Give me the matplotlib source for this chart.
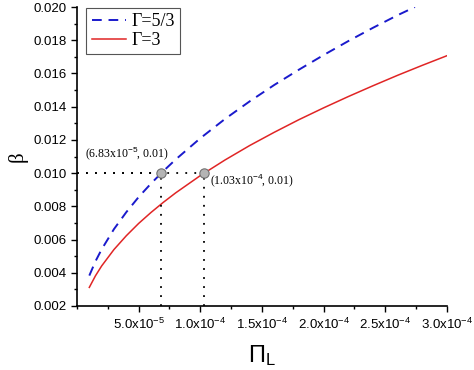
import matplotlib
matplotlib.use("Agg")
import matplotlib.pyplot as plt
from matplotlib.ticker import MultipleLocator

# Data
pi_blue = [1.0e-5, 1.5e-5, 2.0e-5, 3.0e-5, 4.0e-5, 5.0e-5, 6.0e-5, 7.0e-5, 8.0e-5,
           1.0e-4, 1.2e-4, 1.4e-4, 1.6e-4, 1.8e-4, 2.0e-4, 2.2e-4, 2.4e-4, 2.6e-4, 2.74e-4]
beta_blue = [0.00383, 0.00469, 0.00541, 0.00663, 0.00765, 0.00856, 0.00937, 0.01012, 0.01082,
             0.0121, 0.01326, 0.01432, 0.01531, 0.01623, 0.01711, 0.01795, 0.01875, 0.01951, 0.0200]

pi_red = [1.0e-5, 1.5e-5, 2.0e-5, 3.0e-5, 4.0e-5, 5.0e-5, 6.0e-5, 7.0e-5, 8.0e-5,
          1.0e-4, 1.2e-4, 1.4e-4, 1.6e-4, 1.8e-4, 2.0e-4, 2.2e-4, 2.4e-4, 2.6e-4, 2.8e-4, 3.0e-4]
beta_red = [0.00312, 0.00382, 0.00441, 0.0054, 0.00623, 0.00697, 0.00763, 0.00824, 0.00881,
            0.00985, 0.01079, 0.01166, 0.01246, 0.01322, 0.01393, 0.01461, 0.01526, 0.01589, 0.01649, 0.01707]

marked_x = [6.83e-5, 1.03e-4]
marked_y = [0.01, 0.01]
marked_labels = [r"(6.83x10$^{-5}$, 0.01)", r"(1.03x10$^{-4}$, 0.01)"]

xticks = [5e-5, 1e-4, 1.5e-4, 2e-4, 2.5e-4, 3e-4]
xticklabels = [r"5.0x10$^{-5}$", r"1.0x10$^{-4}$", r"1.5x10$^{-4}$",
               r"2.0x10$^{-4}$", r"2.5x10$^{-4}$", r"3.0x10$^{-4}$"]
yticks = [0.002, 0.004, 0.006, 0.008, 0.010, 0.012, 0.014, 0.016, 0.018, 0.020]

plt.rcParams['font.family'] = ['Liberation Sans', 'DejaVu Sans']
plt.rcParams['mathtext.fontset'] = 'custom'
plt.rcParams['mathtext.rm'] = 'Liberation Sans'
plt.rcParams['mathtext.it'] = 'Liberation Sans:italic'

fig = plt.figure(figsize=(4.74, 3.70), dpi=100)
ax = fig.add_axes([0.1624, 0.173, 0.7806, 0.808])

ax.plot(pi_blue, beta_blue, color='#1a1acc', lw=1.4, ls=(0, (5, 3.5)), label='Γ=5/3')
ax.plot(pi_red, beta_red, color='#e02525', lw=1.1, label='Γ=3')

for mx, my in zip(marked_x, marked_y):
    ax.plot([0, mx], [my, my], color='black', lw=1.3, ls=(0, (1, 4)))
    ax.plot([mx, mx], [0.002, my], color='black', lw=1.3, ls=(0, (1, 4)))
ax.scatter(marked_x, marked_y, s=45, facecolor='#b4b4b4', edgecolor='#707070', lw=0.8, zorder=5)

ax.annotate(marked_labels[0], (marked_x[0], marked_y[0]), xytext=(-55, 14),
            textcoords='offset points', fontsize=8.5, family='Liberation Serif', ha='left', va='center')
ax.annotate(marked_labels[1], (marked_x[1], marked_y[1]), xytext=(4, -5),
            textcoords='offset points', fontsize=8.5, family='Liberation Serif', ha='left', va='center')

ax.set_xlim(0, 3e-4)
ax.set_ylim(0.002, 0.020)
ax.set_xticks(xticks)
ax.set_xticklabels(xticklabels)
ax.xaxis.set_minor_locator(MultipleLocator(2.5e-5))
ax.set_yticks(yticks)
ax.set_yticklabels([f"{v:.3f}" for v in yticks])
ax.yaxis.set_minor_locator(MultipleLocator(0.001))
ax.tick_params(axis='both', which='major', direction='out', length=4, labelsize=9.5, width=1)
ax.tick_params(axis='both', which='minor', direction='out', length=2.5, width=1)
ax.spines['top'].set_visible(False)
ax.spines['right'].set_visible(False)
ax.spines['left'].set_linewidth(1.2)
ax.spines['bottom'].set_linewidth(1.2)

ax.set_ylabel('β', fontsize=15, family='Liberation Serif', labelpad=4)
ax.set_xlabel(r'$\Pi_\mathrm{L}$', fontsize=17, labelpad=8)

leg = ax.legend(loc='upper left', bbox_to_anchor=(0.025, 0.998), prop={'family': 'Liberation Serif', 'size': 13},
                fancybox=False, edgecolor='#555555', framealpha=1, handlelength=1.9,
                borderpad=0.3, labelspacing=0.1, handletextpad=0.3, borderaxespad=0.0)
leg.get_frame().set_linewidth(0.8)

fig.savefig('out.png', dpi=100)
